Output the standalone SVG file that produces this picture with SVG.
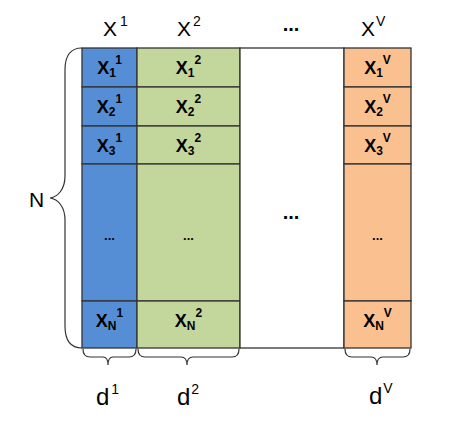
<svg xmlns="http://www.w3.org/2000/svg" width="471" height="422" viewBox="0 0 471 422">
<style>
  text { font-family: "Liberation Sans", Arial, sans-serif; fill: #000; }
  .cell { stroke: #333; stroke-width: 1.3; }
  .blue { fill: #558ED5; }
  .green { fill: #C3D69B; }
  .orange { fill: #FAC090; }
  .white { fill: #FFFFFF; }
  .lbl { font-size: 18px; font-weight: bold; text-anchor: middle; }
  .sub { font-size: 12px; font-weight: bold; }
  .dots { font-size: 13px; font-weight: bold; text-anchor: middle; }
  .big { font-size: 21px; }
  .sup { font-size: 14px; }
  .dl { font-size: 24px; }
  .brace { fill: none; stroke: #333; stroke-width: 1.2; }
  .bigdots { font-size: 20px; font-weight: bold; text-anchor: middle; }
</style>
<rect width="471" height="422" fill="#fff"/>

<g id="col1">
  <rect class="cell blue" x="82" y="48" width="55" height="39"/>
  <rect class="cell blue" x="82" y="87" width="55" height="39"/>
  <rect class="cell blue" x="82" y="126" width="55" height="38"/>
  <rect class="cell blue" x="82" y="164" width="55" height="137"/>
  <rect class="cell blue" x="82" y="301" width="55" height="47"/>
  <text class="lbl" x="109.5" y="74">X<tspan class="sub" dy="3">1</tspan><tspan class="sub" dx="0" dy="-13">1</tspan></text>
  <text class="lbl" x="109.5" y="113">X<tspan class="sub" dy="3">2</tspan><tspan class="sub" dx="0" dy="-13">1</tspan></text>
  <text class="lbl" x="109.5" y="151.5">X<tspan class="sub" dy="3">3</tspan><tspan class="sub" dx="0" dy="-13">1</tspan></text>
  <text class="dots" x="109.5" y="240">...</text>
  <text class="lbl" x="109.5" y="327">X<tspan class="sub" dy="3">N</tspan><tspan class="sub" dx="0" dy="-13">1</tspan></text>
</g>

<g id="col2">
  <rect class="cell green" x="137" y="48" width="103" height="39"/>
  <rect class="cell green" x="137" y="87" width="103" height="39"/>
  <rect class="cell green" x="137" y="126" width="103" height="38"/>
  <rect class="cell green" x="137" y="164" width="103" height="137"/>
  <rect class="cell green" x="137" y="301" width="103" height="47"/>
  <text class="lbl" x="188.5" y="74">X<tspan class="sub" dy="3">1</tspan><tspan class="sub" dx="0" dy="-13">2</tspan></text>
  <text class="lbl" x="188.5" y="113">X<tspan class="sub" dy="3">2</tspan><tspan class="sub" dx="0" dy="-13">2</tspan></text>
  <text class="lbl" x="188.5" y="151.5">X<tspan class="sub" dy="3">3</tspan><tspan class="sub" dx="0" dy="-13">2</tspan></text>
  <text class="dots" x="188.5" y="240">...</text>
  <text class="lbl" x="188.5" y="327">X<tspan class="sub" dy="3">N</tspan><tspan class="sub" dx="0" dy="-13">2</tspan></text>
</g>

<g id="colmid">
  <rect class="cell white" x="240" y="48" width="104" height="300"/>
  <text class="bigdots" x="291" y="219">...</text>
</g>

<g id="colV">
  <rect class="cell orange" x="344" y="48" width="67" height="39"/>
  <rect class="cell orange" x="344" y="87" width="67" height="39"/>
  <rect class="cell orange" x="344" y="126" width="67" height="38"/>
  <rect class="cell orange" x="344" y="164" width="67" height="137"/>
  <rect class="cell orange" x="344" y="301" width="67" height="47"/>
  <text class="lbl" x="377.5" y="74">X<tspan class="sub" dy="3">1</tspan><tspan class="sub" dx="0" dy="-13">V</tspan></text>
  <text class="lbl" x="377.5" y="113">X<tspan class="sub" dy="3">2</tspan><tspan class="sub" dx="0" dy="-13">V</tspan></text>
  <text class="lbl" x="377.5" y="151.5">X<tspan class="sub" dy="3">3</tspan><tspan class="sub" dx="0" dy="-13">V</tspan></text>
  <text class="dots" x="377.5" y="240">...</text>
  <text class="lbl" x="377.5" y="327">X<tspan class="sub" dy="3">N</tspan><tspan class="sub" dx="0" dy="-13">V</tspan></text>
</g>

<g id="headers">
  <text class="big" x="103" y="36">X<tspan class="sup" dx="3" dy="-10">1</tspan></text>
  <text class="big" x="177" y="36">X<tspan class="sup" dx="2" dy="-10">2</tspan></text>
  <text class="bigdots" x="291" y="31">...</text>
  <text class="big" x="361" y="36">X<tspan class="sup" dx="1" dy="-10">V</tspan></text>
</g>

<g id="N-label">
  <text class="big" x="29" y="207">N</text>
</g>

<g id="dims">
  <text class="dl" x="96" y="405">d<tspan class="sup" dx="2" dy="-11">1</tspan></text>
  <text class="dl" x="177" y="405">d<tspan class="sup" dx="1" dy="-11">2</tspan></text>
  <text class="dl" x="369" y="404">d<tspan class="sup" dx="1" dy="-11">V</tspan></text>
</g>

<g id="connectors">
  <path class="brace" d="M82,48 C70,48 65,56 65,70 V176 C65,189 58,197 50,198 C58,199 65,207 65,220 V326 C65,340 70,348 82,348"/>
  <path class="brace" d="M83,349 Q83,357 90,357 H103 Q108,357 108,365 Q108,357 113,357 H129 Q136,357 136,349"/>
  <path class="brace" d="M138,349 Q138,357 145,357 H181 Q187,357 187,365 Q187,357 193,357 H232 Q239,357 239,349"/>
  <path class="brace" d="M345,349 Q345,357 352,357 H371 Q377,357 377,365 Q377,357 383,357 H403 Q410,357 410,349"/>
</g>
</svg>
